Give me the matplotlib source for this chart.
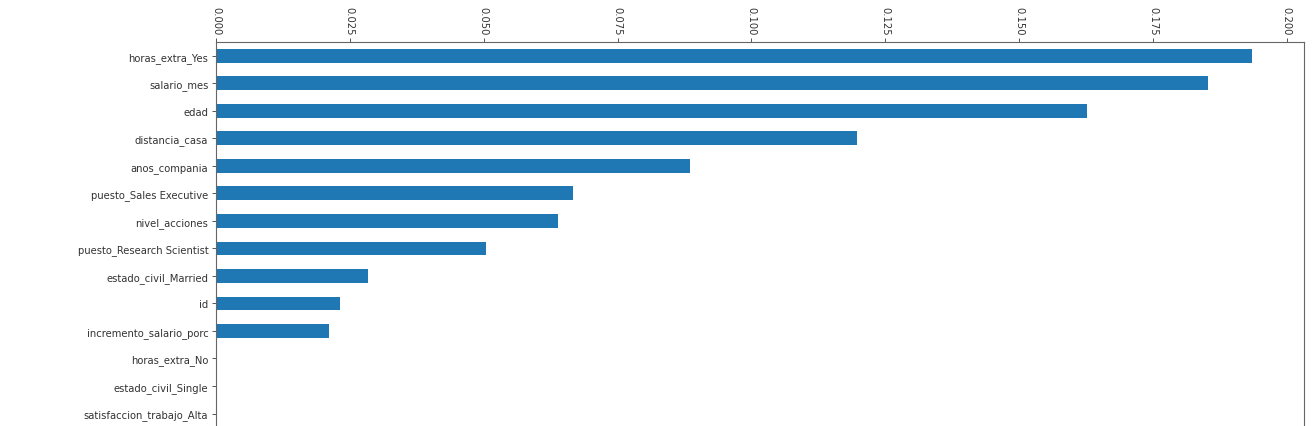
import matplotlib
matplotlib.use("Agg")
import matplotlib.pyplot as plt

# importancia de variables, de mayor a menor
features = [
    "horas_extra_Yes",
    "salario_mes",
    "edad",
    "distancia_casa",
    "anos_compania",
    "puesto_Sales Executive",
    "nivel_acciones",
    "puesto_Research Scientist",
    "estado_civil_Married",
    "id",
    "incremento_salario_porc",
    "horas_extra_No",
    "estado_civil_Single",
    "satisfaccion_trabajo_Alta",
]
importance = [
    0.1935, 0.1852, 0.1627, 0.1197, 0.0885, 0.0667, 0.0639,
    0.0504, 0.0284, 0.0232, 0.0211, 0.0, 0.0, 0.0,
]
xticks = [0, 0.025, 0.05, 0.075, 0.1, 0.125, 0.15, 0.175, 0.2]

plt.rcParams["font.family"] = ["DejaVu Sans"]
plt.rcParams["font.size"] = 7.2

fig = plt.figure(figsize=(13.12, 4.27), dpi=100)
ax = fig.add_axes([216 / 1312, -0.003, (1304 - 216) / 1312, 1 - 43 / 427 + 0.003])

y = list(range(len(features)))
ax.barh(y, importance, height=0.5, color="#1f77b4")
ax.set_yticks(y)
ax.set_yticklabels(features)
ax.set_ylim(len(features) - 0.5, -0.5)
ax.set_xlim(0, 0.2032)

ax.xaxis.tick_top()
ax.set_xticks(xticks)
ax.set_xticklabels([f"{t:.3f}" for t in xticks], rotation=270)
ax.tick_params(colors="#555555", labelcolor="#333333", width=0.7, length=3, pad=2.5)
for s in ax.spines.values():
    s.set_color("#666666")
    s.set_linewidth(0.8)

fig.savefig("out.png", dpi=100)
